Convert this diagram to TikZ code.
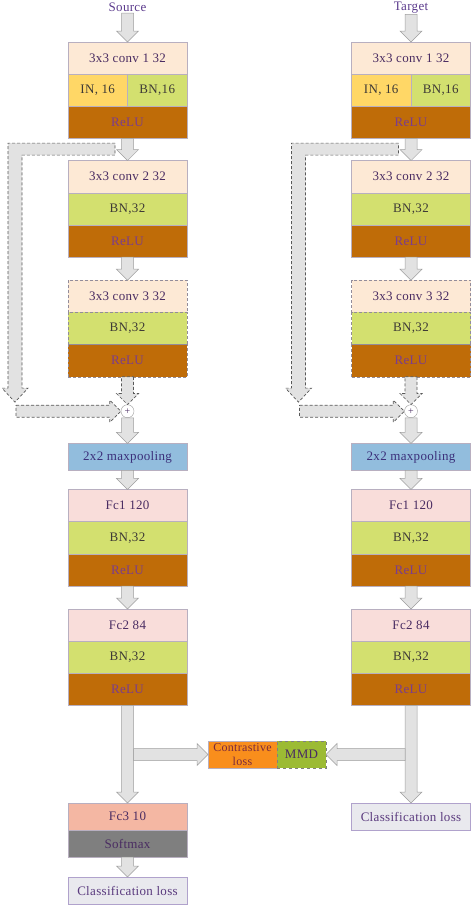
\documentclass[tikz,border=0pt]{standalone}
\usepackage{fontspec}
\setmainfont{Liberation Serif}[LetterSpace=2.5]
\usepackage{tikz}
\usetikzlibrary{positioning, calc}
\definecolor{convpeach}{HTML}{FDE9D5}
\definecolor{ingold}{HTML}{FFD766}
\definecolor{bngreen}{HTML}{D3E06F}
\definecolor{relubrown}{HTML}{BF6C08}
\definecolor{poolblue}{HTML}{92BDDD}
\definecolor{fcpink}{HTML}{F9DDDA}
\definecolor{fcsalmon}{HTML}{F4B7A3}
\definecolor{softgray}{HTML}{7F7F7F}
\definecolor{lossgray}{HTML}{E9E9EE}
\definecolor{lossedge}{HTML}{B0A2CC}
\definecolor{conorange}{HTML}{F98E1C}
\definecolor{mmdgreen}{HTML}{9CBB34}
\definecolor{arrowfill}{HTML}{E2E2E2}
\definecolor{arrowedge}{HTML}{9E9E9E}
\definecolor{edgegray}{HTML}{B8AFC0}
\definecolor{txtpurple}{HTML}{4A2C62}
\definecolor{txtdark}{HTML}{3E3A36}
\definecolor{relutxt}{HTML}{7A3C8E}
\definecolor{pooltxt}{HTML}{3B2F7A}
\definecolor{losstxt}{HTML}{5A3A7E}
\definecolor{contxt}{HTML}{7A2A3E}
\definecolor{labtxt}{HTML}{5B3A8C}
\newcommand{\blkfont}{\fontsize{13}{15}\selectfont}
\newcommand{\arrshaft}{6pt}
\newcommand{\arrhead}{11pt}
\newcommand{\arrlen}{11pt}
\tikzset{
    blk/.style={
        rectangle,
        draw=edgegray,
        line width=0.4pt,
        minimum width=119pt,
        minimum height=32.2pt,
        inner sep=0pt,
        outer sep=0pt,
        font=\blkfont,
        text=txtpurple
    },
    conv/.style={blk, fill=convpeach},
    halfbn/.style={blk, minimum width=59.5pt, text=txtdark},
    bn/.style={blk, fill=bngreen, text=txtdark},
    relu/.style={blk, fill=relubrown, text=relutxt},
    pool/.style={blk, fill=poolblue, minimum height=27pt, text=pooltxt},
    fc/.style={blk, fill=fcpink},
    softmax/.style={blk, fill=softgray, minimum height=27pt},
    lossbox/.style={blk, fill=lossgray, draw=lossedge, minimum height=27pt, text=losstxt},
    dashedblk/.style={draw=edgegray!80!black, dash pattern=on 3pt off 2pt},
    streamlbl/.style={font=\blkfont, text=labtxt, inner sep=1pt},
    adder/.style={
        circle,
        draw=arrowedge,
        fill=white,
        minimum size=13pt,
        inner sep=0pt,
        font=\fontsize{10}{10}\selectfont,
        text=txtpurple
    },
    fatarrow/.style={
        fill=arrowfill,
        draw=arrowedge,
        line width=0.5pt,
        to path={
            ($(\tikztotarget)!\arrlen!(\tikztostart)$) coordinate (fa-base)
            ($(\tikztostart)!\arrshaft!90:(\tikztotarget)$)
            -- ($(fa-base)!\arrshaft!-90:(\tikztostart)$)
            -- ($(fa-base)!\arrhead!-90:(\tikztostart)$)
            -- (\tikztotarget)
            -- ($(fa-base)!\arrhead!90:(\tikztostart)$)
            -- ($(fa-base)!\arrshaft!90:(\tikztostart)$)
            -- ($(\tikztostart)!\arrshaft!-90:(\tikztotarget)$)
            -- cycle
        }
    },
    skipline/.style={fill=arrowfill, draw=black!65, line width=0.7pt, dash pattern=on 3pt off 2pt},
    skiparrow/.style={fatarrow, draw=black!65, line width=0.7pt, dash pattern=on 3pt off 2pt}
}
\begin{document}
\begin{tikzpicture}[x=1pt, y=-1pt]
\useasboundingbox (0,0) rectangle (474,905);

% two streams
\foreach \c/\lab/\x in {s/Source/127.5, t/Target/411}{
    \node[streamlbl] (\c-lab) at (\x,7.5) {\lab};
    \node[conv, anchor=north] (\c-conv1) at (\x,42) {3x3 conv 1 32};
    \node[halfbn, fill=ingold, anchor=north west] (\c-in) at (\c-conv1.south west) {IN, 16};
    \node[halfbn, fill=bngreen, right=0pt of \c-in] (\c-bn1) {BN,16};
    \node[relu, below=0pt of \c-in.south east] (\c-relu1) {ReLU};

    \node[conv, below=22pt of \c-relu1] (\c-conv2) {3x3 conv 2 32};
    \node[bn, below=0pt of \c-conv2] (\c-bn2) {BN,32};
    \node[relu, below=0pt of \c-bn2] (\c-relu2) {ReLU};

    \node[conv, dashedblk, below=23pt of \c-relu2] (\c-conv3) {3x3 conv 3 32};
    \node[bn, dashedblk, below=0pt of \c-conv3] (\c-bn3) {BN,32};
    \node[relu, dashedblk, below=0pt of \c-bn3] (\c-relu3) {ReLU};

    \node[adder, below=27.7pt of \c-relu3] (\c-plus) {+};
    \node[pool, below=25.5pt of \c-plus] (\c-pool) {2x2 maxpooling};

    \node[fc, below=19pt of \c-pool] (\c-fc1) {Fc1 120};
    \node[bn, below=0pt of \c-fc1] (\c-bn4) {BN,32};
    \node[relu, below=0pt of \c-bn4] (\c-relu4) {ReLU};

    \node[fc, below=23pt of \c-relu4] (\c-fc2) {Fc2 84};
    \node[bn, below=0pt of \c-fc2] (\c-bn5) {BN,32};
    \node[relu, below=0pt of \c-bn5] (\c-relu5) {ReLU};

    \draw[fatarrow] (\c-lab.south) to (\c-conv1.north);
    \draw[fatarrow] (\c-relu1.south) to (\c-conv2.north);
    \draw[fatarrow] (\c-relu2.south) to (\c-conv3.north);
    \draw[skiparrow] (\c-relu3.south) to (\c-plus.north);
    \draw[fatarrow] (\c-plus.south) to (\c-pool.north);
    \draw[fatarrow] (\c-pool.south) to (\c-fc1.north);
    \draw[fatarrow] (\c-relu4.south) to (\c-fc2.north);

    % shortcut
    \draw[skipline] ($(\c-relu1.south)+(-12.5,4.5)$) -- ++(-107,0) -- ++(0,245) -- ++(-6,0)
        -- ++(13,14) -- ++(13,-14) -- ++(-6,0) -- ++(0,-233) -- ++(93,0) -- cycle;
    \coordinate (\c-skipin) at ($(\c-plus)+(-111.5,0)$);
    \draw[skiparrow] (\c-skipin) to (\c-plus.west);
}

\node[fc, fill=fcsalmon, minimum height=27pt, anchor=north] (s-fc3) at (127.5,803) {Fc3 10};
\node[softmax, below=0pt of s-fc3] (s-soft) {Softmax};
\node[lossbox, below=20pt of s-soft] (s-loss) {Classification loss};
\node[lossbox, anchor=north] (t-loss) at (411,803) {Classification loss};

\node[blk, fill=conorange, minimum width=69pt, minimum height=27pt, text=contxt, align=center,
    font=\fontsize{12}{13.5}\selectfont] (cl) at (242.5,754.5) {Contrastive\\loss};
\node[blk, fill=mmdgreen, minimum width=49pt, minimum height=27pt, draw=gray, dashed, right=0pt of cl] (mmd) {MMD};

\draw[fatarrow] (s-relu5.south) to (s-fc3.north);
\draw[fatarrow] (s-soft.south) to (s-loss.north);
\draw[fatarrow] (t-relu5.south) to (t-loss.north);

\coordinate (s-x) at ($(s-relu5.south)+(6,0)$);
\coordinate (s-branch) at (s-x |- cl.west);
\draw[fatarrow] (s-branch) to (cl.west);
\coordinate (t-x) at ($(t-relu5.south)+(-6,0)$);
\coordinate (t-branch) at (t-x |- mmd.east);
\draw[fatarrow] (t-branch) to (mmd.east);

\end{tikzpicture}
\end{document}
